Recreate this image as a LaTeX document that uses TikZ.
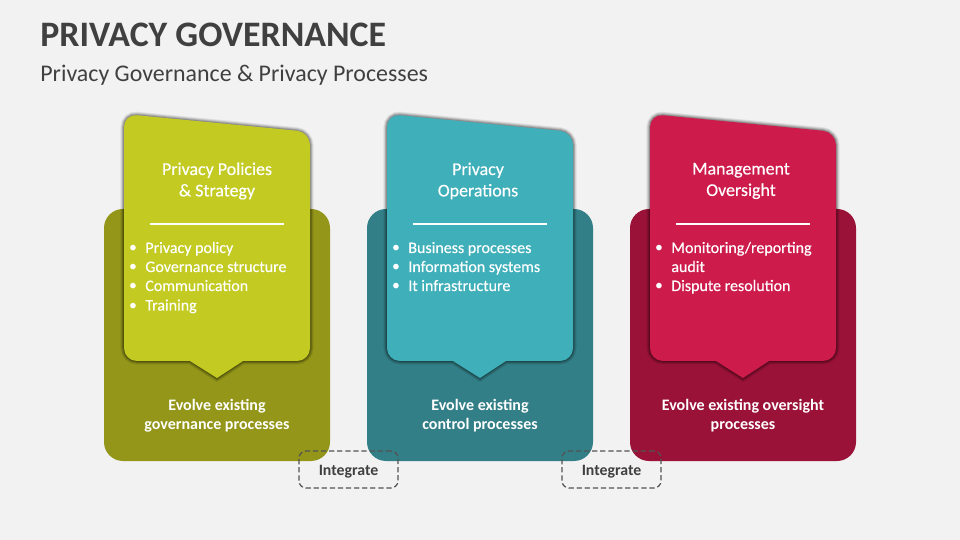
\documentclass[tikz,border=0pt]{standalone}
\usepackage{fontspec}
\setmainfont{Carlito}
\newfontfamily\semifont[FakeBold=0.35]{Carlito}
\usetikzlibrary{positioning}

\definecolor{pagebg}{HTML}{F2F2F2}
\definecolor{titlegray}{HTML}{404040}
\definecolor{limefront}{HTML}{C3CA21}
\definecolor{limeback}{HTML}{939619}
\definecolor{tealfront}{HTML}{3FAFBA}
\definecolor{tealback}{HTML}{337F87}
\definecolor{redfront}{HTML}{CD1C4C}
\definecolor{redback}{HTML}{9A1238}

\tikzset{
  headtext/.style={text=white, font=\semifont\fontsize{10.2}{12.2}\selectfont, align=center},
  itemtext/.style={text=white, font=\semifont\fontsize{9.1}{10.8}\selectfont, anchor=base west, inner sep=0pt},
  bullettext/.style={text=white, font=\fontsize{9}{10.8}\selectfont, anchor=base, inner sep=0pt},
  foottext/.style={text=white, font=\bfseries\fontsize{9.1}{10.9}\selectfont, align=center},
  integratebox/.style={draw=titlegray!90, dashed, line width=0.7pt, rounded corners=4pt, dash pattern=on 3pt off 1.6pt,
    minimum width=1.98cm, minimum height=0.74cm, text=titlegray, font=\bfseries\fontsize{9}{10.8}\selectfont}
}

\begin{document}
\begin{tikzpicture}[x=0.02cm,y=-0.02cm]

	\useasboundingbox[fill=pagebg] (0,0) rectangle (960,540);

	\node[anchor=west, inner sep=0pt, text=titlegray, font=\bfseries\fontsize{20.4}{24}\selectfont] (title) at (40,35) {PRIVACY GOVERNANCE};
	\node[anchor=west, inner sep=0pt, text=titlegray, font=\fontsize{13.6}{16}\selectfont] (subtitle) at (40,75) {Privacy Governance \& Privacy Processes};

	% back panel, shadow and front card of each column
	\foreach \x/\front/\back in {0/limefront/limeback,263/tealfront/tealback,526/redfront/redback}{
	  \begin{scope}[shift={(\x,0)}]
	    \fill[\back, rounded corners=0.38cm] (104,209) rectangle (330,461);
	    \foreach \w/\o in {4/0.08,3/0.10,2/0.14,1/0.18}{
	      \draw[black, opacity=\o, line width=\w pt, rounded corners=0.26cm]
	        (124,114) -- (310,132) -- (310,361) [sharp corners] -- (243,361) -- (217,378) -- (190,361) [rounded corners=0.26cm] -- (124,361) -- cycle;
	    }
	    \fill[\front, rounded corners=0.26cm]
	      (124,114) -- (310,132) -- (310,361) [sharp corners] -- (243,361) -- (217,378) -- (190,361) [rounded corners=0.26cm] -- (124,361) -- cycle;
	    \draw[white, line width=0.9pt] (150,224) -- (284,224);
	  \end{scope}
	}

	% headings
	\node[headtext] (head1) at (217,181) {Privacy Policies\\\& Strategy};
	\node[headtext] (head2) at (478,181) {Privacy\\Operations};
	\node[headtext] (head3) at (741,181) {Management\\Oversight};

	% bullet lists
	\foreach \y/\t in {253/Privacy policy,272/Governance structure,291/Communication,310.5/Training}{
	  \node[bullettext] at (133,\y) {•};
	  \node[itemtext] at (145,\y) {\t};
	}
	\foreach \y/\t in {253/Business processes,272/Information systems,291/It infrastructure}{
	  \node[bullettext] at (396,\y) {•};
	  \node[itemtext] at (408,\y) {\t};
	}
	\foreach \y/\t in {253/{Monitoring/reporting},291/Dispute resolution}{
	  \node[bullettext] at (659,\y) {•};
	  \node[itemtext] at (671,\y) {\t};
	}
	\node[itemtext] (audit) at (671,272) {audit};

	% captions
	\node[foottext] (foot1) at (217,416) {Evolve existing\\governance processes};
	\node[foottext] (foot2) at (480,416) {Evolve existing\\control processes};
	\node[foottext] (foot3) at (743,416) {Evolve existing oversight\\processes};

	\node[integratebox, text depth=0.5pt] (integrate1) at (348.5,469.5) {\raisebox{-1.5pt}{Integrate}};
	\node[integratebox, text depth=0.5pt] (integrate2) at (611.5,469.5) {\raisebox{-1.5pt}{Integrate}};

\end{tikzpicture}
\end{document}
